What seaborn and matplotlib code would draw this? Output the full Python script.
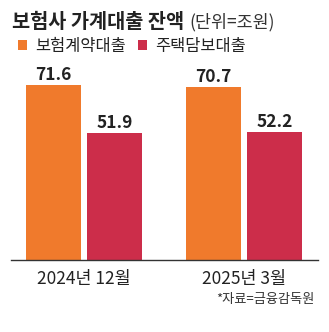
import matplotlib
matplotlib.use("Agg")
import matplotlib.pyplot as plt
import seaborn as sns
import pandas as pd

periods = ["2024년 12월", "2025년 3월"]
series = ["보험계약대출", "주택담보대출"]
policy_loans = [71.6, 70.7]
mortgage_loans = [51.9, 52.2]
colors = ["#F07A2C", "#CC2D4A"]

df = pd.DataFrame({
    "period": periods * 2,
    "series": [series[0]] * len(periods) + [series[1]] * len(periods),
    "value": policy_loans + mortgage_loans,
})

sns.set_theme(style="white")
plt.rcParams["font.family"] = ["Noto Sans CJK KR", "DejaVu Sans"]

W, H = 329, 332
fig = plt.figure(figsize=(W / 100, H / 100), dpi=100)
ax = fig.add_axes([11 / W, (H - 260) / H, 307 / W, 260 / H])

sns.barplot(data=df, x="period", y="value", hue="series", order=periods,
            hue_order=series, palette=colors, width=0.7625, gap=0.1,
            saturation=1, ax=ax, linewidth=0)

for cont in ax.containers:
    ax.bar_label(cont, fmt="%.1f", padding=1, fontsize=12.5, fontweight="bold",
                 color="#222222")

ax.set_xlim(-0.456, 1.4625)
ax.set_ylim(0, 106.4)
ax.set_xlabel("")
ax.set_ylabel("")
ax.set_yticks([])
for s in ["top", "right", "left"]:
    ax.spines[s].set_visible(False)
ax.spines["bottom"].set_color("#333333")
ax.spines["bottom"].set_linewidth(1.0)
ax.tick_params(axis="x", length=0, pad=7, labelsize=12.5, labelcolor="#222222")

sns.move_legend(ax, "center left", bbox_to_anchor=(18 / W, 1 - 46 / H),
                bbox_transform=fig.transFigure, ncol=2, frameon=False,
                title=None, fontsize=11.8, handlelength=0.55, handleheight=0.55,
                handletextpad=0.5, columnspacing=0.75, borderaxespad=0,
                borderpad=0)
for t in ax.get_legend().get_texts():
    t.set_color("#222222")

fig.text(12 / W, 1 - 22 / H, "보험사 가계대출 잔액", fontsize=14.2,
         fontweight="bold", color="#222222", va="center", ha="left")
fig.text(189 / W, 1 - 22 / H, "(단위=조원)", fontsize=12.5,
         color="#333333", va="center", ha="left")
fig.text(315 / W, 1 - 299 / H, "*자료=금융감독원", fontsize=9.5,
         color="#333333", va="center", ha="right")

fig.savefig("out.png", dpi=100)
